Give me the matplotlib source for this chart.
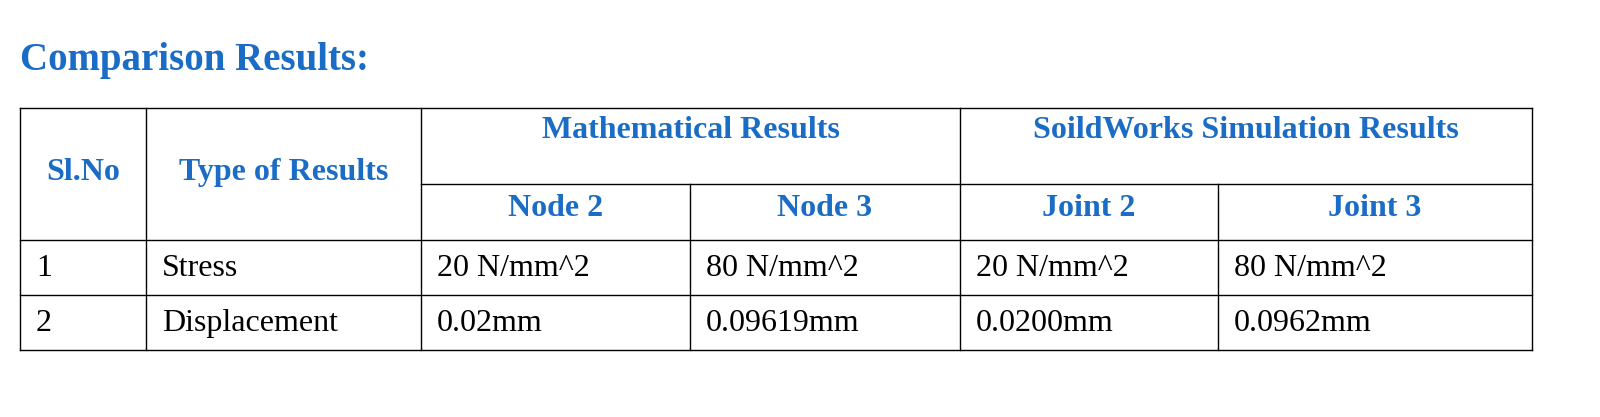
import matplotlib.pyplot as plt

plt.rcParams['font.family'] = ['Liberation Serif', 'DejaVu Serif']

title = 'Comparison Results:'
group_headers = ['Mathematical Results', 'SoildWorks Simulation Results']
sub_headers = ['Node 2', 'Node 3', 'Joint 2', 'Joint 3']
col_headers = ['Sl.No', 'Type of Results']
sl_no = ['1', '2']
result_types = ['Stress', 'Displacement']
node2 = ['20 N/mm^2', '0.02mm']
node3 = ['80 N/mm^2', '0.09619mm']
joint2 = ['20 N/mm^2', '0.0200mm']
joint3 = ['80 N/mm^2', '0.0962mm']

blue = '#1a6cc4'
xs = [20, 146, 421, 690, 960, 1218, 1532]
ys = [108, 184, 240, 295, 350]

fig = plt.figure(figsize=(16, 4.17), dpi=100)
ax = fig.add_axes([0, 0, 1, 1])
ax.set_xlim(0, 1600)
ax.set_ylim(417, 0)
ax.axis('off')

ax.text(20, 60, title, color=blue, fontsize=28, fontweight='bold', va='center')

lw = 1.0
for y in [ys[0], ys[2], ys[3], ys[4]]:
    ax.plot([xs[0], xs[-1]], [y, y], color='black', lw=lw)
ax.plot([xs[2], xs[-1]], [ys[1], ys[1]], color='black', lw=lw)
for i, x in enumerate(xs):
    if i in (3, 5):
        ax.plot([x, x], [ys[1], ys[-1]], color='black', lw=lw)
    else:
        ax.plot([x, x], [ys[0], ys[-1]], color='black', lw=lw)

hdr = dict(color=blue, fontsize=23, fontweight='bold', ha='center', va='center')
ax.text((xs[0] + xs[1]) / 2, 172, col_headers[0], **hdr)
ax.text((xs[1] + xs[2]) / 2, 172, col_headers[1], **hdr)
ax.text((xs[2] + xs[4]) / 2, 131, group_headers[0], **hdr)
ax.text((xs[4] + xs[6]) / 2, 131, group_headers[1], **hdr)
for j, s in enumerate(sub_headers):
    ax.text((xs[2 + j] + xs[3 + j]) / 2, 208, s, **hdr)

cols = [sl_no, result_types, node2, node3, joint2, joint3]
for r in range(2):
    yc = (ys[2 + r] + ys[3 + r]) / 2 + 1
    for c, col in enumerate(cols):
        ax.text(xs[c] + 16, yc, col[r], fontsize=23, ha='left', va='center', color='black')

fig.savefig('out.png', dpi=100)
